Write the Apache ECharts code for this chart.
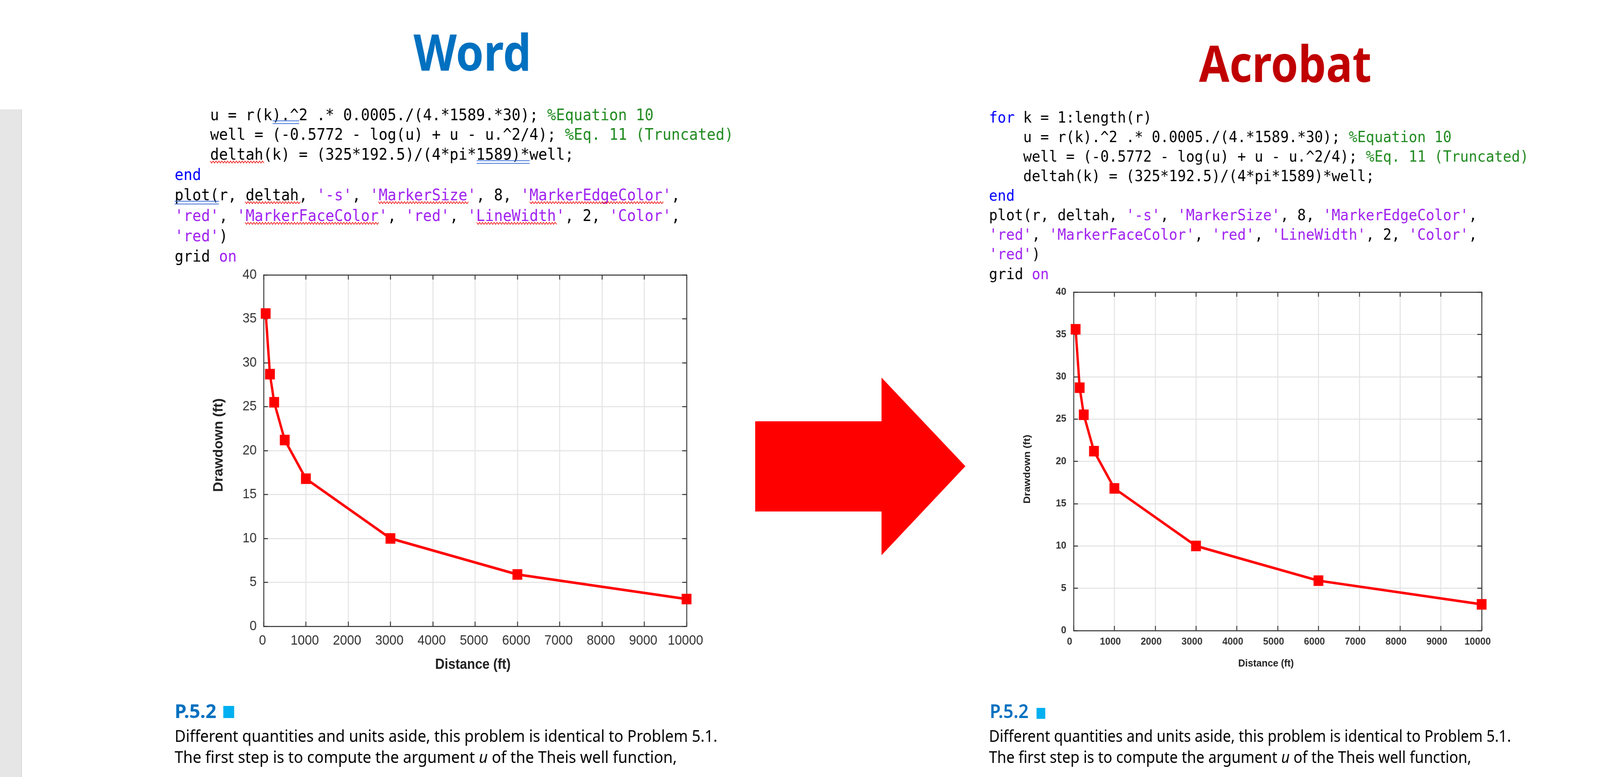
<!DOCTYPE html>
<html>
<head>
<meta charset="utf-8">
<style>html,body{margin:0;padding:0;background:#fff;overflow:hidden}#c{width:4407px;height:1990px;transform-origin:0 0}</style>
<script src="https://cdn.jsdelivr.net/npm/echarts@6/dist/echarts.min.js"></script>
</head>
<body>
<div id="c"></div>
<script>
// ---- data ----
const distance = [50, 150, 250, 500, 1000, 3000, 6000, 10000];
const wordDrawdown = [35.6, 28.7, 25.5, 21.2, 16.8, 10.0, 5.9, 3.1];
const acrobatDrawdown = [35.6, 28.7, 25.5, 21.2, 16.8, 10.0, 5.9, 3.1];
const xTickStep = 1000, xMax = 10000;
const yTickStep = 5, yMax = 40;
const xTitle = 'Distance (ft)';
const yTitle = 'Drawdown (ft)';

const wordCode = [
  "    u = r(k).^2 .* 0.0005./(4.*1589.*30); {c|%Equation 10}",
  "    well = (-0.5772 - log(u) + u - u.^2/4); {c|%Eq. 11 (Truncated)}",
  "    deltah(k) = (325*192.5)/(4*pi*1589)*well;",
  "{k|end}",
  "plot(r, deltah, {s|'-s'}, {s|'MarkerSize'}, 8, {s|'MarkerEdgeColor'},",
  "{s|'red'}, {s|'MarkerFaceColor'}, {s|'red'}, {s|'LineWidth'}, 2, {s|'Color'},",
  "{s|'red'})",
  "grid {s|on}"
];
const acrobatCode = [
  "{k|for} k = 1:length(r)",
  "    u = r(k).^2 .* 0.0005./(4.*1589.*30); {c|%Equation 10}",
  "    well = (-0.5772 - log(u) + u - u.^2/4); {c|%Eq. 11 (Truncated)}",
  "    deltah(k) = (325*192.5)/(4*pi*1589)*well;",
  "{k|end}",
  "plot(r, deltah, {s|'-s'}, {s|'MarkerSize'}, 8, {s|'MarkerEdgeColor'},",
  "{s|'red'}, {s|'MarkerFaceColor'}, {s|'red'}, {s|'LineWidth'}, 2, {s|'Color'},",
  "{s|'red'})",
  "grid {s|on}"
];
const wordTitle = 'Word', acrobatTitle = 'Acrobat';
const problemLabel = 'P.5.2';
const bodyLine1 = 'Different quantities and units aside, this problem is identical to Problem 5.1.';
const bodyLine2 = 'The first step is to compute the argument {i|u} of the Theis well function,';

// The browser window can be narrower than the 4407 px page: squeeze the page to fit it.
const host = document.getElementById('c');
if (window.innerWidth !== 4407) host.style.transform = 'scaleX(' + (window.innerWidth / 4407) + ')';

// ---- layout ----
const MONO = '"DejaVu Sans Mono"';
const SANS = '"Noto Sans"';
const LIB = '"Liberation Sans"';
const ctx = document.createElement('canvas').getContext('2d');
function fit(text, font, target) {
  ctx.font = font;
  return target / ctx.measureText(text.replace(/\{\w\|([^}]*)\}/g, '$1')).width;
}
function richFor(size, family) {
  const base = {fontSize: size, fontFamily: family};
  return {
    k: Object.assign({fill: '#0000ff'}, base),
    c: Object.assign({fill: '#1f8a1f'}, base),
    s: Object.assign({fill: '#a020f0'}, base)
  };
}
const els = [];
function codeBlock(lines, x, ys, size) {
  lines.forEach((t, i) => els.push({
    type: 'text', x: x, y: ys[i], z: 5,
    style: {text: t, fontSize: size, fontFamily: MONO, fill: '#000', align: 'left', verticalAlign: 'middle', rich: richFor(size, MONO)}
  }));
}
function title(text, cx, cy, width, color) {
  const size = 130;
  els.push({
    type: 'text', x: cx, y: cy, scaleX: fit(text, 'bold ' + size + 'px ' + SANS, width), z: 5,
    style: {text, fontSize: size, fontWeight: 'bold', fontFamily: SANS, fill: color, align: 'center', verticalAlign: 'middle'}
  });
}
function body(text, x, y, width) {
  const size = 41;
  els.push({
    type: 'text', x, y, scaleX: fit(text, size + 'px ' + SANS, width), z: 5,
    style: {text, fontSize: size, fontFamily: SANS, fill: '#000', align: 'left', verticalAlign: 'middle',
      rich: {i: {fontSize: size, fontFamily: SANS, fontStyle: 'italic', fill: '#000'}}}
  });
}
function label(x, y, width, weight, sq) {
  const size = 48;
  els.push({
    type: 'text', x, y, scaleX: fit(problemLabel, weight + ' ' + size + 'px ' + SANS, width), z: 5,
    style: {text: problemLabel, fontSize: size, fontWeight: weight, fontFamily: SANS, fill: '#0070c0', align: 'left', verticalAlign: 'middle'}
  });
  els.push({type: 'rect', z: 5, shape: sq, style: {fill: '#00b0f0'}});
}
function wavy(x0, x1, y) {
  const pts = [];
  let up = true;
  for (let x = x0; x <= x1; x += 4) { pts.push([x, y + (up ? -2.5 : 2.5)]); up = !up; }
  els.push({type: 'polyline', z: 6, shape: {points: pts}, style: {stroke: '#f01818', lineWidth: 1.8, fill: null}});
}
function dbl(x0, x1, y) {
  [y - 3.5, y + 3.5].forEach(v => els.push({type: 'line', z: 6, shape: {x1: x0, y1: v, x2: x1, y2: v}, style: {stroke: '#3a6fd8', lineWidth: 2.2}}));
}

// page sidebar
els.push({type: 'rect', z: 1, shape: {x: 0, y: 280, width: 59, height: 1710}, style: {fill: '#e6e6e6'}});
els.push({type: 'line', z: 1, shape: {x1: 59.5, y1: 280, x2: 59.5, y2: 1990}, style: {stroke: '#cfcfcf', lineWidth: 1.5}});

// big arrow
els.push({type: 'polygon', z: 2, shape: {points: [[2080, 1079], [2428, 1079], [2428, 967], [2659, 1194], [2428, 1422], [2428, 1310], [2080, 1310]]}, style: {fill: '#ff0000'}});

title(wordTitle, 1301, 144, 324, '#0070c0');
title(acrobatTitle, 3540, 173, 475, '#c00000');

codeBlock(wordCode, 481, [297, 347, 398, 450, 502, 555, 607, 659], 40.6);
codeBlock(acrobatCode, 2724, [304, 354, 404, 454, 504, 554, 604, 654, 705], 39.2);

// proofing marks in the Word pane
dbl(751, 824, 313); dbl(1313, 1459, 415); dbl(481, 603, 519);
wavy(579, 730, 415);
wavy(675, 828, 519); wavy(1042, 1291, 519); wavy(1459, 1828, 519);
wavy(675, 1045, 572); wavy(1313, 1534, 572);

label(481, 1825, 115, 'bold', {x: 615, y: 1808, width: 30, height: 31});
label(2726, 1825, 107, '600', {x: 2855, y: 1813, width: 24, height: 28});
body(bodyLine1, 481, 1888, 1495);
body(bodyLine2, 481, 1942, 1385);
body(bodyLine1, 2724, 1888, 1438);
body(bodyLine2, 2724, 1942, 1330);

// ---- axes ----
const AX = '#333333';
const plain = v => String(v);
function xAxes(grid, c) {
  const common = {type: 'value', gridIndex: grid, min: 0, max: xMax, interval: xTickStep,
    axisLine: {onZero: false, lineStyle: {color: AX, width: 2.5}},
    axisTick: {inside: true, length: 12, lineStyle: {color: AX, width: 2.5}}};
  return [
    Object.assign({}, common, {position: 'bottom', name: xTitle, nameLocation: 'middle', nameGap: c.xNameGap,
      nameTextStyle: {fontFamily: LIB, fontWeight: 'bold', fontSize: c.nameSize, color: '#222', padding: c.xNamePad},
      axisLabel: {formatter: plain, fontFamily: LIB, fontWeight: c.tickWeight, fontSize: c.tickSize, color: '#333', margin: c.xMargin, padding: c.xLabelPad},
      splitLine: {show: true, lineStyle: {color: '#e2e2e2', width: 2.5}}}),
    Object.assign({}, common, {position: 'top', axisLabel: {show: false}, splitLine: {show: false}})
  ];
}
function yAxes(grid, c) {
  const common = {type: 'value', gridIndex: grid, min: 0, max: yMax, interval: yTickStep,
    axisLine: {onZero: false, lineStyle: {color: AX, width: 2.5}},
    axisTick: {inside: true, length: 12, lineStyle: {color: AX, width: 2.5}}};
  return [
    Object.assign({}, common, {position: 'left', name: yTitle, nameLocation: 'middle', nameGap: c.yNameGap,
      nameTextStyle: {fontFamily: LIB, fontWeight: 'bold', fontSize: c.nameSize, color: '#222', padding: c.yNamePad},
      axisLabel: {formatter: plain, fontFamily: LIB, fontWeight: c.tickWeight, fontSize: c.tickSize, color: '#333', margin: c.yMargin, padding: c.yLabelPad},
      splitLine: {show: true, lineStyle: {color: '#e2e2e2', width: 2.5}}}),
    Object.assign({}, common, {position: 'right', axisLabel: {show: false}, splitLine: {show: false}})
  ];
}
const leftCfg = {nameSize: 36, tickSize: 35, tickWeight: 'normal', xMargin: 20, yMargin: 19, xNameGap: 81, yNameGap: 105,
  xNamePad: [0, 12, 0, 0], yNamePad: [0, 0, 0, 28], xLabelPad: [0, 6, 0, 0], yLabelPad: [0, 0, 0, 0]};
const rightCfg = {nameSize: 26.5, tickSize: 26, tickWeight: 'bold', xMargin: 16, yMargin: 20, xNameGap: 71, yNameGap: 114,
  xNamePad: [0, 64, 0, 0], yNamePad: [0, 40, 0, 0], xLabelPad: [0, 22, 0, 0], yLabelPad: [0, 0, 14, 0]};

function series(values, axisIdx) {
  return {
    type: 'line', xAxisIndex: axisIdx, yAxisIndex: axisIdx, clip: false, silent: true,
    data: distance.map((d, i) => [d, values[i]]),
    symbol: 'rect', symbolSize: 27, showSymbol: true,
    lineStyle: {color: '#ff0000', width: 6.5}, itemStyle: {color: '#ff0000'}
  };
}

const chart = echarts.init(host, null, {renderer: 'canvas', width: 4407, height: 1990});
chart.setOption({
  animation: false,
  backgroundColor: '#ffffff',
  grid: [
    {left: 726, top: 704, width: 1165, height: 900, containLabel: false},
    {left: 2957, top: 748, width: 1124, height: 867, containLabel: false}
  ],
  xAxis: xAxes(0, leftCfg).concat(xAxes(1, rightCfg)),
  yAxis: yAxes(0, leftCfg).concat(yAxes(1, rightCfg)),
  series: [series(wordDrawdown, 0), series(acrobatDrawdown, 2)],
  graphic: {elements: els}
});
</script>
</body>
</html>
